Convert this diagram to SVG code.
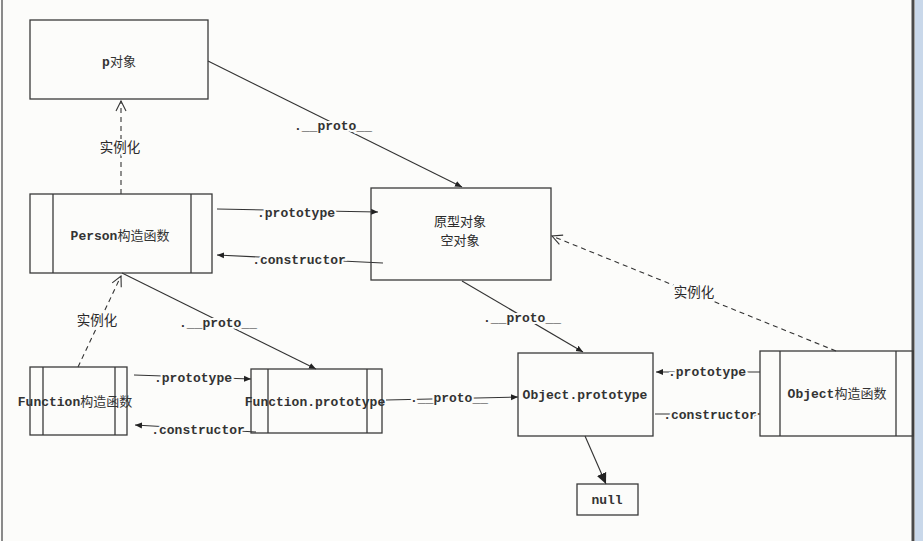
<svg xmlns="http://www.w3.org/2000/svg" width="923" height="541" viewBox="0 0 923 541">
<style>
.box{fill:none;stroke:#3a3a3a;stroke-width:1.3}
.ln{fill:none;stroke:#333;stroke-width:1.1}
.dash{fill:none;stroke:#333;stroke-width:1.1;stroke-dasharray:5,4}
.t{font-family:"Liberation Mono","Noto Sans CJK SC",monospace;font-size:13px;font-weight:bold;fill:#333;text-anchor:middle}
.n{font-weight:normal;font-family:"Noto Sans CJK SC",sans-serif}
.cj{font-family:"Noto Sans CJK SC","Liberation Sans",sans-serif;font-size:13px;fill:#2a2a2a;text-anchor:middle}
.lb{font-family:"Liberation Mono","Noto Sans CJK SC",monospace;font-size:13px;font-weight:bold;fill:#333;text-anchor:middle;stroke:#fcfcfa;stroke-width:4;paint-order:stroke}
.lbc{font-family:"Noto Sans CJK SC","Liberation Sans",sans-serif;font-size:13.5px;fill:#2a2a2a;text-anchor:middle;stroke:#fcfcfa;stroke-width:4;paint-order:stroke}
</style>
<defs>
<marker id="fa" markerWidth="8" markerHeight="8" refX="7" refY="4" orient="auto" markerUnits="userSpaceOnUse">
<path d="M0,1 L7,4 L0,7 Z" fill="#222"/>
</marker>
<marker id="fb" markerWidth="12" markerHeight="12" refX="11" refY="6" orient="auto" markerUnits="userSpaceOnUse">
<path d="M0,1 L11,6 L0,11 Z" fill="#222"/>
</marker>
<marker id="oa" markerWidth="12" markerHeight="12" refX="11" refY="6" orient="auto" markerUnits="userSpaceOnUse">
<path d="M1,1 L11,6 L1,11" fill="none" stroke="#333" stroke-width="1.1"/>
</marker>
</defs>
<rect x="0" y="0" width="923" height="541" fill="#fcfcfa"/>
<line x1="2" y1="0" x2="2" y2="541" stroke="#8a8a8a" stroke-width="2"/>
<rect x="915" y="0" width="8" height="541" fill="#c9d8ea"/>
<line x1="913" y1="0" x2="913" y2="541" stroke="#4a4a4a" stroke-width="3"/>

<g id="connectors">
<line class="ln" x1="208" y1="61" x2="462" y2="187" marker-end="url(#fa)"/>
<text class="lb" x="333" y="130">.__proto__</text>
<line class="dash" x1="121" y1="194" x2="121" y2="101" marker-end="url(#oa)"/>
<text class="lbc" x="120" y="152">实例化</text>
<line class="ln" x1="217" y1="209" x2="378" y2="212" marker-end="url(#fa)"/>
<text class="lb" x="296" y="217">.prototype</text>
<line class="ln" x1="383" y1="263" x2="217" y2="255" marker-end="url(#fa)"/>
<text class="lb" x="299" y="264">.constructor</text>
<line class="dash" x1="78" y1="367" x2="121" y2="276" marker-end="url(#oa)"/>
<text class="lbc" x="97" y="325">实例化</text>
<line class="ln" x1="122" y1="273" x2="316" y2="369" marker-end="url(#fa)"/>
<text class="lb" x="218" y="327">.__proto__</text>
<line class="ln" x1="134" y1="375" x2="251" y2="379" marker-end="url(#fa)"/>
<text class="lb" x="193" y="382">.prototype</text>
<line class="ln" x1="256" y1="432" x2="135" y2="425" marker-end="url(#fa)"/>
<text class="lb" x="198" y="434">.constructor</text>
<line class="ln" x1="386" y1="400" x2="518" y2="397" marker-end="url(#fa)"/>
<text class="lb" x="449" y="402">.__proto__</text>
<line class="ln" x1="462" y1="281" x2="583" y2="352" marker-end="url(#fa)"/>
<text class="lb" x="522" y="322">.__proto__</text>
<line class="dash" x1="836" y1="351" x2="552" y2="236" marker-end="url(#oa)"/>
<text class="lbc" x="694" y="297">实例化</text>
<line class="ln" x1="760" y1="372" x2="656" y2="372" marker-end="url(#fa)"/>
<text class="lb" x="707" y="376">.prototype</text>
<line class="ln" x1="655" y1="414" x2="760" y2="414" marker-end="url(#fa)"/>
<text class="lb" x="710" y="419">.constructor</text>
<line class="ln" x1="585" y1="436" x2="606" y2="484" marker-end="url(#fb)"/>
</g>

<g id="p-obj">
<rect class="box" x="30" y="20" width="178" height="79"/>
<text class="t" x="119" y="66">p<tspan class="n">对象</tspan></text>
</g>
<g id="person">
<rect class="box" x="30" y="194" width="182" height="79"/>
<line class="box" x1="53" y1="194" x2="53" y2="273"/>
<line class="box" x1="191" y1="194" x2="191" y2="273"/>
<text class="t" x="120" y="240">Person<tspan class="n">构造函数</tspan></text>
</g>
<g id="proto-obj">
<rect class="box" x="371" y="188" width="180" height="92"/>
<text class="cj" x="460" y="226">原型对象</text>
<text class="cj" x="460" y="245">空对象</text>
</g>
<g id="function-ctor">
<rect class="box" x="30" y="367" width="97" height="68"/>
<line class="box" x1="43" y1="367" x2="43" y2="435"/>
<line class="box" x1="115" y1="367" x2="115" y2="435"/>
<text class="t" x="75" y="406">Function<tspan class="n">构造函数</tspan></text>
</g>
<g id="function-proto">
<rect class="box" x="251" y="369" width="131" height="64"/>
<line class="box" x1="268" y1="369" x2="268" y2="433"/>
<line class="box" x1="367" y1="369" x2="367" y2="433"/>
<text class="t" x="315" y="406">Function.prototype</text>
</g>
<g id="object-proto">
<rect class="box" x="518" y="353" width="135" height="83"/>
<text class="t" x="585" y="399">Object.prototype</text>
</g>
<g id="object-ctor">
<rect class="box" x="760" y="351" width="153" height="85"/>
<line class="box" x1="780" y1="351" x2="780" y2="436"/>
<line class="box" x1="896" y1="351" x2="896" y2="436"/>
<text class="t" x="837" y="398">Object<tspan class="n">构造函数</tspan></text>
</g>
<g id="null">
<rect class="box" x="577" y="484" width="61" height="31"/>
<text class="t" x="607" y="504">null</text>
</g>
</svg>
